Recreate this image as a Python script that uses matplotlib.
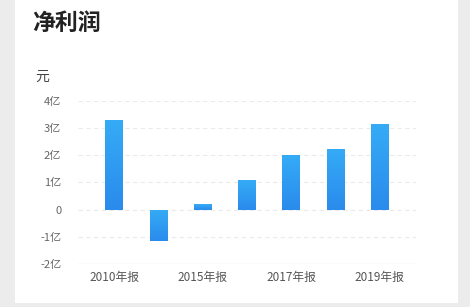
import numpy as np
import matplotlib
matplotlib.use("Agg")
import matplotlib.pyplot as plt
from matplotlib.patches import Rectangle
from matplotlib.colors import LinearSegmentedColormap
from matplotlib.ticker import FuncFormatter

plt.rcParams['font.family'] = ['Noto Sans CJK SC', 'DejaVu Sans']

# data (unit: 亿元)
periods = ['2010年报', '2014年报', '2015年报', '2016年报', '2017年报', '2018年报', '2019年报']
profit = [3.30, -1.15, 0.22, 1.10, 1.99, 2.21, 3.15]
yticks = [-2, -1, 0, 1, 2, 3, 4]

fig = plt.figure(figsize=(4.7, 3.07), dpi=100, facecolor='#ececec')
# white card
fig.patches.append(Rectangle((15/470, 4/307), (458-15)/470, 1, transform=fig.transFigure,
                             facecolor='white', edgecolor='none', zorder=-5))

ax = fig.add_axes([78/470, (307-264)/307, (416-78)/470, (264-100.7)/307])
ax.set_facecolor('none')
ax.set_zorder(2)

x = np.arange(len(periods))
bars = ax.bar(x, profit, width=0.4, color='#2d9cf2', zorder=2)

# vertical gradient on each bar
cmap = LinearSegmentedColormap.from_list('g', ['#35abf6', '#2a8bec'])
grad = np.linspace(0, 1, 64).reshape(-1, 1)
for b in bars:
    x0, y0 = b.get_x(), b.get_y()
    w, h = b.get_width(), b.get_height()
    ylo, yhi = min(y0, y0 + h), max(y0, y0 + h)
    im = ax.imshow(grad, cmap=cmap, aspect='auto', extent=[x0, x0 + w, ylo, yhi],
                   origin='upper', zorder=3)
    im.set_clip_path(b)
    b.set_facecolor('none')

ax.set_xlim(-0.82, 6.82)
ax.set_ylim(-2, 4)
ax.set_yticks(yticks)
ax.yaxis.set_major_formatter(FuncFormatter(lambda v, p: '0' if v == 0 else '%d亿' % v))
ax.set_xticks(x)
ax.set_xticklabels([p if i % 2 == 0 else '' for i, p in enumerate(periods)])

for yv in yticks[1:]:
    ax.axhline(yv, color='#ebebeb', lw=0.8, ls=(0, (4, 3)), zorder=1)
ax.axhline(-2, color='#e6e6e6', lw=1.0, zorder=1)

for s in ax.spines.values():
    s.set_visible(False)
ax.tick_params(axis='y', length=0, pad=12, labelsize=8, labelcolor='#666666')
ax.tick_params(axis='x', length=0, pad=5, labelsize=8.5, labelcolor='#555555')

fig.text(32/470, 1 - 23/307, '净利润', fontsize=16.5, fontweight='bold', color='#222222', va='center')
fig.text(35/470, 1 - 77/307, '元', fontsize=10, color='#444444', va='center')

fig.savefig('out.png', dpi=100, facecolor=fig.get_facecolor())
